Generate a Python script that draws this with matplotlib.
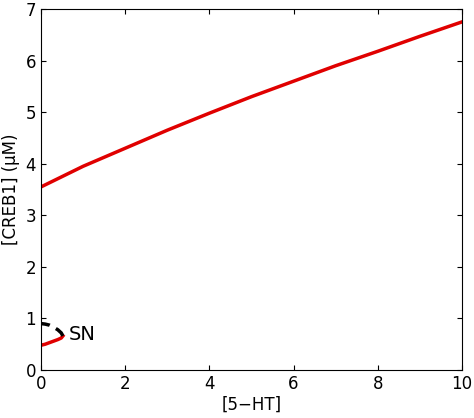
import matplotlib
matplotlib.use("Agg")
import matplotlib.pyplot as plt

upper_x = [0, 1, 2, 3, 4, 5, 6, 7, 8, 9, 10]
upper_y = [3.55, 3.95, 4.3, 4.65, 4.98, 5.3, 5.6, 5.9, 6.18, 6.47, 6.75]
stable_low_x = [0, 0.1, 0.2, 0.3, 0.4, 0.48, 0.52]
stable_low_y = [0.48, 0.5, 0.53, 0.56, 0.59, 0.62, 0.66]
unstable_x = [0.52, 0.48, 0.4, 0.3, 0.2, 0.1, 0]
unstable_y = [0.66, 0.72, 0.78, 0.83, 0.87, 0.89, 0.9]

fig = plt.figure(figsize=(4.74, 4.18), dpi=100)
ax = fig.add_axes([41/474, 48/418, 421/474, 361/418])
ax.plot(upper_x, upper_y, color='#e00000', lw=2.5)
ax.plot(stable_low_x, stable_low_y, color='#e00000', lw=2.5)
ax.plot(unstable_x, unstable_y, color='black', lw=2.5, ls=(0, (3, 2)))
ax.text(0.65, 0.68, 'SN', fontsize=14, va='center', ha='left')
ax.set_xlim(0, 10)
ax.set_ylim(0, 7)
ax.set_xticks(range(0, 11, 2))
ax.set_yticks(range(0, 8))
ax.tick_params(labelsize=12, direction='in', top=True, right=True)
ax.set_xlabel('[5\u2212HT]', fontsize=12, labelpad=2)
ax.set_ylabel('[CREB1] (\u03bcM)', fontsize=12, labelpad=4)
fig.savefig('out.png', dpi=100)
